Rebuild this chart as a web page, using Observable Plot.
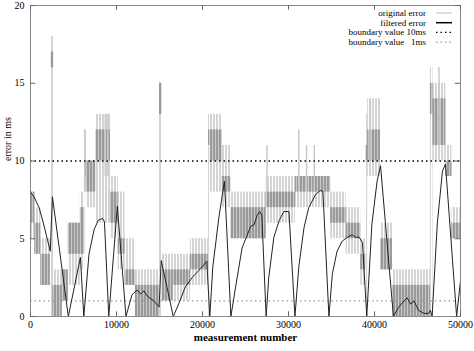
<!DOCTYPE html>
<html><head><meta charset="utf-8">
<script src="https://cdn.jsdelivr.net/npm/d3@7"></script>
<script src="https://cdn.jsdelivr.net/npm/@observablehq/plot@0.6"></script>
<style>
body{margin:0;background:#fff;}
svg text{font-family:"Liberation Serif","DejaVu Serif",serif;}
</style>
</head><body><div id="chart"></div>
<script>
// original error bands (measurement-number ranges, value ranges in ms)
const segStart = [0,500,1200,2400,2600,3700,4400,5800,6300,6500,7600,9300,10200,11000,12200,15000,15300,16600,18600,20700,20900,22300,23300,24500,27400,30800,34900,36700,38400,39000,39200,40700,42100,46500,46800,48300,49000];
const segEnd   = [500,1200,2300,2700,3700,4400,5800,6300,6500,7600,9300,10200,11000,12200,15000,15300,16600,18600,20700,20900,22300,23300,24500,27400,30800,34900,36700,38400,39000,39200,40700,42100,46500,46800,48300,49000,50000];
const lightLo  = [5,4,2,0,0,1,2,3,8,7,6,5,3,2,0,0,1,1,2,0,8,7,5,5,6,7,5,4,2,0,9,3,0,0,10,9,5];
const lightHi  = [8,7,5,18,3,3,6,8,12,10,13,9,8,5,3,15,4,4,5,13,13,11,8,8,9,9,8,7,5,13,14,6,3,16,15,11,7];
const darkLo   = [6,4,2,16,0,1,4,4,9,8,10,6,4,2,0,13,1,2,3,11,10,8,5,5,7,8,6,5,3,10,10,3,0,13,11,9,5];
const darkHi   = [8,6,4,17,2,3,6,7,10,10,12,8,5,3,2,15,3,3,4,12,12,9,7,7,8,9,7,6,4,11,12,5,2,15,14,10,6];
// isolated thin spikes of the original error
const spikeX  = [6300,8700,9000,27500,31200,32100,33000,39500,47500];
const spikeLo = [8,9,9,8,8,8,8,10,11];
const spikeHi = [12,13,13,11,12,11,11,14,16];
// filtered error
const filtX = [0,400,1000,1500,2300,2550,4400,5800,6200,6800,7400,7900,8400,8600,9100,10100,11100,11800,12400,12800,13200,13600,14350,14950,15200,16600,17300,18000,18800,19800,20500,20850,21200,21900,22550,23300,23850,24600,25100,25600,26000,26350,26650,26900,27400,27700,28300,28900,29450,30050,30750,31200,31800,32350,33150,33700,34000,34700,35100,35650,36250,36850,37400,37800,38200,38600,39100,39700,40300,40700,42200,42800,43450,43800,44200,44600,45100,45750,46300,46500,46700,47300,47900,48250,49550,50000];
const filtY = [8.0,7.7,7.0,6.0,4.2,7.7,0,3.8,0,4.0,5.6,6.2,6.3,6.1,0,7.1,0,1.4,1.7,1.45,1.65,1.3,1.0,0.6,3.6,0,0.9,1.9,2.5,3.1,3.55,0,3.2,6.35,8.7,0,1.9,4.4,5.1,5.8,5.9,6.5,6.75,6.5,0,2.5,5.1,6.15,6.75,6.75,0,3.2,5.7,7.0,7.85,8.1,8.05,0,2.75,4.2,4.85,5.1,5.25,5.1,5.1,4.75,0,5.95,8.7,9.7,0,0.6,1.0,1.2,0.8,1.0,0.4,0.2,0.2,0.4,0,5.95,9.35,9.8,0,2.3];
const boundaries = [10, 1];
const xTicks = [0,10000,20000,30000,40000,50000];
const yTicks = [0,5,10,15,20];
const legendLabels = ["original error","filtered error","boundary value 10ms","boundary value   1ms"];

const bands = segStart.map((s,i)=>({x1:s,x2:segEnd[i],lo:lightLo[i],hi:lightHi[i],dlo:darkLo[i],dhi:darkHi[i]}));
const spikes = spikeX.map((x,i)=>({x,lo:spikeLo[i],hi:spikeHi[i]}));
const filtered = filtX.map((x,i)=>({x,y:filtY[i]}));

const chart = Plot.plot({
  width:474, height:351,
  marginLeft:30, marginRight:14, marginTop:5, marginBottom:35,
  x:{domain:[0,50000]},
  y:{domain:[0,20]},
  style:{fontFamily:"Liberation Serif", fontSize:"10px", background:"#fff"},
  marks:[
    Plot.rect(bands,{x1:"x1",x2:"x2",y1:"lo",y2:"hi",fill:"url(#lightStripes)"}),
    Plot.rect(bands,{x1:"x1",x2:"x2",y1:"dlo",y2:"dhi",fill:"url(#darkStripes)"}),
    Plot.ruleX(spikes,{x:"x",y1:"lo",y2:"hi",stroke:"#c8c8c8",strokeWidth:1.5}),
    Plot.ruleY([boundaries[0]],{stroke:"#000",strokeDasharray:"1.5,3",strokeWidth:1.3}),
    Plot.ruleY([boundaries[1]],{stroke:"#999",strokeDasharray:"1.5,3",strokeWidth:1.3}),
    Plot.line(filtered,{x:"x",y:"y",stroke:"#222",strokeWidth:1}),
    Plot.frame({stroke:"#888"}),
    Plot.ruleX(xTicks,{y1:0,y2:0.3,stroke:"#666"}),
    Plot.ruleX(xTicks,{y1:19.7,y2:20,stroke:"#666"}),
    Plot.ruleY(yTicks,{x1:0,x2:600,stroke:"#666"}),
    Plot.ruleY(yTicks,{x1:49400,x2:50000,stroke:"#666"}),
    Plot.axisX({ticks:xTicks, tickSize:0, tickPadding:4, tickFormat:d=>String(d), label:null}),
    Plot.axisY({ticks:yTicks, tickSize:0, tickPadding:6, tickFormat:d=>String(d), label:null}),
    Plot.text(["measurement number"],{frameAnchor:"bottom", dy:24, fontWeight:"bold", fontSize:11}),
    Plot.text(["error in ms"],{frameAnchor:"left", rotate:-90, dx:-23, fontSize:10})
  ]
});
document.getElementById("chart").appendChild(chart);

const svg = d3.select(chart);
const defs = svg.insert("defs",":first-child");
const p1 = defs.append("pattern").attr("id","lightStripes").attr("patternUnits","userSpaceOnUse").attr("width",3).attr("height",3);
p1.append("rect").attr("width",3).attr("height",3).attr("fill","#fff");
p1.append("rect").attr("width",2).attr("height",3).attr("fill","#d4d4d4");
const p2 = defs.append("pattern").attr("id","darkStripes").attr("patternUnits","userSpaceOnUse").attr("width",3).attr("height",3);
p2.append("rect").attr("width",3).attr("height",3).attr("fill","#c8c8c8");
p2.append("rect").attr("width",2).attr("height",3).attr("fill","#9a9a9a");

// legend (inside plot, top right)
const lg = svg.append("g").attr("font-size",9);
const styles = [{stroke:"#bbb",dash:null,w:1},{stroke:"#000",dash:null,w:1.5},{stroke:"#000",dash:"1.5,3",w:1.3},{stroke:"#999",dash:"1.5,3",w:1.3}];
legendLabels.forEach((t,i)=>{
  const y = 13 + i*9.7;
  lg.append("text").attr("x",426).attr("y",y+3).attr("text-anchor","end").text(t);
  const l = lg.append("line").attr("x1",436).attr("x2",452).attr("y1",y).attr("y2",y)
    .attr("stroke",styles[i].stroke).attr("stroke-width",styles[i].w);
  if (styles[i].dash) l.attr("stroke-dasharray",styles[i].dash);
});
</script>
</body></html>
